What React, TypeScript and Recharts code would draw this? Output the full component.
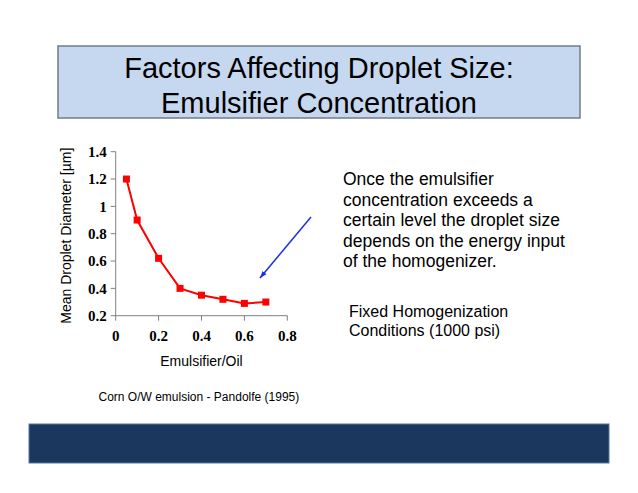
import React from "react";
import { LineChart, Line, XAxis, YAxis } from "recharts";

const ratio = [0.05, 0.1, 0.2, 0.3, 0.4, 0.5, 0.6, 0.7];
const diameter = [1.2, 0.9, 0.62, 0.4, 0.35, 0.32, 0.29, 0.3];
const xTicks = [0, 0.2, 0.4, 0.6, 0.8];
const yTicks = [0.2, 0.4, 0.6, 0.8, 1, 1.2, 1.4];

const titleLines = ["Factors Affecting Droplet Size:", "Emulsifier Concentration"];
const noteLines = [
  "Once the emulsifier",
  "concentration exceeds a",
  "certain level the droplet size",
  "depends on the energy input",
  "of the homogenizer.",
];
const fixedLines = ["Fixed Homogenization", "Conditions (1000 psi)"];
const sourceText = "Corn O/W emulsion - Pandolfe (1995)";

const data = ratio.map((x, i) => ({ x, y: diameter[i] }));

const SquareDot = (props: any) => {
  const { cx, cy } = props;
  if (cx == null || cy == null) return null;
  return <rect x={cx - 3.5} y={cy - 3.5} width={7} height={7} fill="#ff0000" />;
};

const sans = "'Liberation Sans', Arial, sans-serif";
const serif = "'Liberation Serif', 'Times New Roman', serif";

export default function App() {
  return (
    <div style={{ position: "absolute", left: 0, top: 0, width: 638, height: 493, background: "#fff", overflow: "hidden" }}>
      <div style={{ position: "absolute", left: 0, top: 0 }}>
        <LineChart
          width={638}
          height={493}
          data={data}
          margin={{ top: 151.7, right: 350.7, left: 55.7, bottom: 117.3 }}
        >
          <XAxis
            type="number"
            dataKey="x"
            domain={[0, 0.8]}
            ticks={xTicks}
            height={60}
            tickSize={5}
            tickMargin={10}
            stroke="#808080"
            tick={{ fill: "#000", fontFamily: serif, fontWeight: "bold", fontSize: 15 }}
            label={{ value: "Emulsifier/Oil", position: "insideBottom", offset: 10, fill: "#000", fontFamily: sans, fontSize: 14 }}
          />
          <YAxis
            type="number"
            domain={[0.2, 1.4]}
            ticks={yTicks}
            width={60}
            tickSize={5}
            tickMargin={4}
            stroke="#808080"
            tick={{ fill: "#000", fontFamily: serif, fontWeight: "bold", fontSize: 15 }}
            label={{
              value: "Mean Droplet Diameter [\u00b5m]",
              angle: -90,
              position: "insideLeft",
              offset: 10,
              dy: 2,
              fill: "#000",
              fontFamily: sans,
              fontSize: 14,
              style: { textAnchor: "middle" },
            }}
          />
          <Line
            type="linear"
            dataKey="y"
            stroke="#ff0000"
            strokeWidth={2}
            dot={<SquareDot />}
            activeDot={false}
            isAnimationActive={false}
          />
        </LineChart>
      </div>
      <svg width={638} height={493} style={{ position: "absolute", left: 0, top: 0, pointerEvents: "none" }}>
        <defs>
          <marker id="arr" markerWidth="8" markerHeight="8" refX="7" refY="4" orient="auto" markerUnits="userSpaceOnUse">
            <path d="M0,1.5 L7,4 L0,6.5 Z" fill="#1a2fe6" />
          </marker>
        </defs>
        <rect x={58} y={46} width={522} height={72} fill="#c6d8f0" stroke="#737c88" strokeWidth={1.5} />
        {titleLines.map((t, i) => (
          <text key={t} x={319} y={78 + i * 35} textAnchor="middle" fontFamily={sans} fontSize={29} fill="#000">
            {t}
          </text>
        ))}
        {noteLines.map((t, i) => (
          <text key={t} x={343} y={185 + i * 20.5} fontFamily={sans} fontSize={17.5} fill="#000">
            {t}
          </text>
        ))}
        {fixedLines.map((t, i) => (
          <text key={t} x={349} y={317 + i * 18.5} fontFamily={sans} fontSize={16} fill="#000">
            {t}
          </text>
        ))}
        <text x={98.5} y={401} fontFamily={sans} fontSize={12} fill="#000">
          {sourceText}
        </text>
        <line x1={311} y1={217} x2={260} y2={278} stroke="#1a2fe6" strokeWidth={1.5} markerEnd="url(#arr)" />
        <rect x={29} y={424} width={580} height={39} fill="#1b375e" stroke="#5576a6" strokeWidth={1} />
      </svg>
    </div>
  );
}
